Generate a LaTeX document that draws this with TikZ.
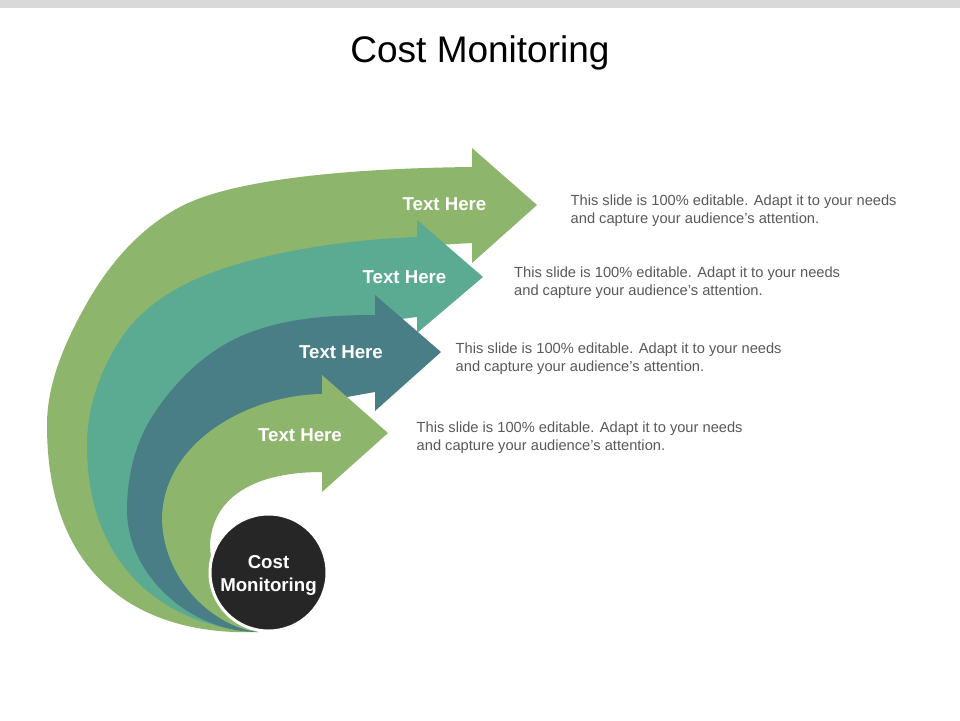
\documentclass[tikz,border=0pt]{standalone}
\usepackage{fontspec}
\setmainfont{Liberation Sans}
\definecolor{barGray}{RGB}{217,217,217}
\definecolor{greenA}{RGB}{142,181,108}
\definecolor{tealB}{RGB}{91,170,146}
\definecolor{tealC}{RGB}{73,126,134}
\definecolor{circDark}{RGB}{38,38,38}
\definecolor{descGray}{RGB}{89,89,89}
\tikzset{
  lbl/.style={text=white, font=\bfseries\fontsize{18.67}{22}\selectfont, inner sep=0pt},
  desc/.style={anchor=west, align=left, text=descGray, font=\fontsize{14.67}{18.2}\selectfont, inner sep=0pt},
}
\begin{document}
\begin{tikzpicture}[x=1pt,y=-1pt]
\useasboundingbox (0,0) rectangle (960,720);
\fill[white] (0,0) rectangle (960,720);
\fill[barGray] (0,0) rectangle (960,8);
\node[anchor=base, font=\fontsize{37}{40}\selectfont, inner sep=0pt] (title) at (480,62) {Cost Monitoring};
% arrow 1
\fill[greenA] (258,632) .. controls (155,636) and (47,590) .. (47,425)
  .. controls (47,382) and (66,340) .. (87,303)
  .. controls (109,264) and (140,228) .. (180,207)
  .. controls (240,175) and (380,168) .. (472,167)
  -- (472,148) -- (537,205) -- (472,263) -- (472,243)
  -- (400,247) .. controls (200,255) and (105,330) .. (100,450)
  .. controls (100,560) and (180,628) .. (258,632) -- cycle;
% arrow 2
\fill[tealB] (258,632) .. controls (175,628) and (87,575) .. (87,445)
  .. controls (87,408) and (100,371) .. (120,340)
  .. controls (134.6,317.3) and (156.2,300) .. (180,287)
  .. controls (233,258) and (330,240) .. (417,237)
  -- (417,220) -- (483,277) -- (417,333) -- (417,317)
  -- (355,325) .. controls (235,332) and (165,390) .. (158,480)
  .. controls (162,565) and (220,615) .. (258,632) -- cycle;
% arrow 3
\fill[tealC] (258,632) .. controls (190,632) and (127,575) .. (127,510)
  .. controls (127,479) and (134,447) .. (150,420)
  .. controls (171,386) and (201,355) .. (237,338)
  .. controls (279,318) and (330,315) .. (375,315)
  -- (375,295) -- (441,352) -- (375,411) -- (375,392)
  -- (330,400) .. controls (240,410) and (185,445) .. (178,505)
  .. controls (180,580) and (228,622) .. (258,632) -- cycle;
% arrow 4
\fill[greenA] (258,632) .. controls (215,627) and (164,582) .. (162,520)
  .. controls (162,443) and (247,395) .. (322,394) -- (322,375) -- (388,433) -- (322,492) -- (322,472)
  .. controls (250,472) and (212,500) .. (210,545)
  .. controls (212,590) and (235,628) .. (258,632) -- cycle;
% centre circle
\node[circle, fill=circDark, draw=white, line width=3pt, minimum size=117pt, inner sep=0pt] (hub) at (268.5,572.5) {};
\node[text=white, align=center, inner sep=0pt, font=\bfseries\fontsize{18.67}{23}\selectfont] (hubtext) at (268.5,575) {Cost\\Monitoring};
% labels
\node[lbl] (l1) at (444.5,204) {Text Here};
\node[lbl] (l2) at (404.5,277) {Text Here};
\node[lbl] (l3) at (341,352) {Text Here};
\node[lbl] (l4) at (300,435) {Text Here};
% descriptions
\node[desc] (d1) at (570.5,211) {This slide is 100\% editable. Adapt it to your needs\\and capture your audience's attention.};
\node[desc] (d2) at (514,282.5) {This slide is 100\% editable. Adapt it to your needs\\and capture your audience's attention.};
\node[desc] (d3) at (455.5,359) {This slide is 100\% editable. Adapt it to your needs\\and capture your audience's attention.};
\node[desc] (d4) at (416.5,438) {This slide is 100\% editable. Adapt it to your needs\\and capture your audience's attention.};
\end{tikzpicture}
\end{document}
